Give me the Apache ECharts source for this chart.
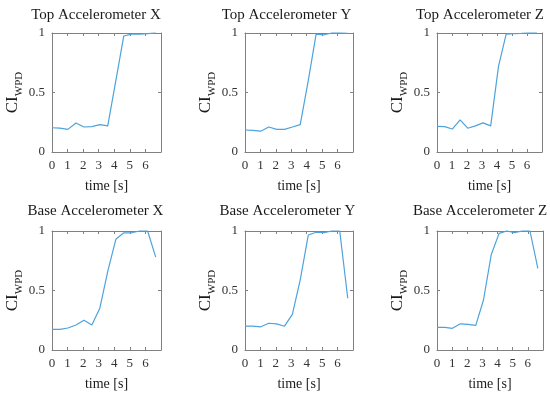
<!DOCTYPE html>
<html><head><meta charset="utf-8">
<script src="https://cdn.jsdelivr.net/npm/echarts@6/dist/echarts.min.js"></script>
<style>html,body{margin:0;padding:0;background:#fff}#c{width:550px;height:394px}</style>
</head><body><div id="c"></div>
<script>
const time = [0, 0.51, 1.02, 1.54, 2.05, 2.56, 3.07, 3.58, 4.1, 4.61, 5.12, 5.63, 6.14, 6.66];
const titles = ['Top Accelerometer X','Top Accelerometer Y','Top Accelerometer Z','Base Accelerometer X','Base Accelerometer Y','Base Accelerometer Z'];
const topX  = [0.204,0.200,0.190,0.244,0.210,0.213,0.230,0.220,0.600,0.975,0.990,0.990,0.995,1.000];
const topY  = [0.185,0.182,0.175,0.210,0.190,0.190,0.210,0.230,0.600,0.990,0.985,1.000,1.000,0.997];
const topZ  = [0.215,0.213,0.193,0.270,0.200,0.220,0.245,0.220,0.720,0.990,0.995,0.997,1.000,1.000];
const baseX = [0.174,0.174,0.185,0.210,0.250,0.210,0.350,0.660,0.930,0.985,0.985,1.000,1.000,0.780];
const baseY = [0.200,0.200,0.195,0.225,0.220,0.200,0.300,0.590,0.966,0.990,0.986,1.000,1.000,0.435];
const baseZ = [0.190,0.190,0.182,0.220,0.216,0.207,0.420,0.800,0.980,1.000,0.986,1.000,1.000,0.686];
const seriesData = [topX, topY, topZ, baseX, baseY, baseZ];
const xTicks = [0,1,2,3,4,5,6];
const yTicks = [0,0.5,1];

const FONT = 'Liberation Serif';
const grids = [
  {left:52, top:33, width:109, height:119},
  {left:245, top:33, width:108, height:119},
  {left:437, top:33, width:105, height:119},
  {left:52, top:231, width:109, height:119},
  {left:245, top:231, width:108, height:119},
  {left:437, top:231, width:106, height:119}
];
const titlePos = [[91,3],[281.5,3],[475,3],[90.5,199],[282.5,199],[475,199]];
const axisCol = '#808080';
const txtCol = '#333';
const option = {
  animation:false,
  backgroundColor:'#fff',
  textStyle:{fontFamily:FONT},
  title: titles.map((t,i)=>({text:t,left:titlePos[i][0],top:titlePos[i][1],textAlign:'center',
    textStyle:{fontFamily:FONT,fontSize:15,fontWeight:'normal',color:'#1a1a1a'}})),
  grid: grids,
  xAxis: [], yAxis: [], series: []
};
grids.forEach((g,i)=>{
  option.xAxis.push({type:'value',gridIndex:i,min:0,max:7,interval:1,position:'bottom',
    name:'time [s]',nameLocation:'middle',nameGap:27,
    nameTextStyle:{fontFamily:FONT,fontSize:14,color:'#1a1a1a'},
    axisLine:{onZero:false,lineStyle:{color:axisCol,width:1}},
    axisTick:{inside:true,length:3,lineStyle:{color:axisCol}},
    axisLabel:{showMaxLabel:false,fontFamily:FONT,fontSize:13,color:txtCol,margin:7,
      formatter:v=>xTicks.includes(v)?String(v):''},
    splitLine:{show:false}});
  option.xAxis.push({type:'value',gridIndex:i,min:0,max:7,interval:1,position:'top',
    axisLine:{onZero:false,lineStyle:{color:axisCol,width:1}},
    axisTick:{inside:true,length:3,lineStyle:{color:axisCol}},
    axisLabel:{show:false},splitLine:{show:false}});
  option.yAxis.push({type:'value',gridIndex:i,min:0,max:1,interval:0.5,position:'left',
    name:'{a|CI}{b|WPD}',nameLocation:'middle',nameGap:28,nameRotate:90,
    nameTextStyle:{color:'#1a1a1a',rich:{
      a:{fontFamily:FONT,fontSize:17,color:'#1a1a1a',lineHeight:22,verticalAlign:'bottom'},
      b:{fontFamily:FONT,fontSize:11,color:'#1a1a1a',lineHeight:22,verticalAlign:'bottom',padding:[0,0,-4,0]}}},
    axisLine:{onZero:false,lineStyle:{color:axisCol,width:1}},
    axisTick:{inside:true,length:3,lineStyle:{color:axisCol}},
    axisLabel:{fontFamily:FONT,fontSize:13,color:txtCol,margin:7,
      formatter:v=>yTicks.includes(v)?String(v):''},
    splitLine:{show:false}});
  option.yAxis.push({type:'value',gridIndex:i,min:0,max:1,interval:0.5,position:'right',
    axisLine:{onZero:false,lineStyle:{color:axisCol,width:1}},
    axisTick:{inside:true,length:3,lineStyle:{color:axisCol}},
    axisLabel:{show:false},splitLine:{show:false}});
  option.series.push({type:'line',xAxisIndex:2*i,yAxisIndex:2*i,showSymbol:false,symbol:'none',
    clip:false,z:5,
    lineStyle:{color:'#4da3dc',width:1.2},
    data:time.map((t,k)=>[t,seriesData[i][k]])});
});
const chart = echarts.init(document.getElementById('c'),null,{renderer:'canvas'});
chart.setOption(option);
</script></body></html>
